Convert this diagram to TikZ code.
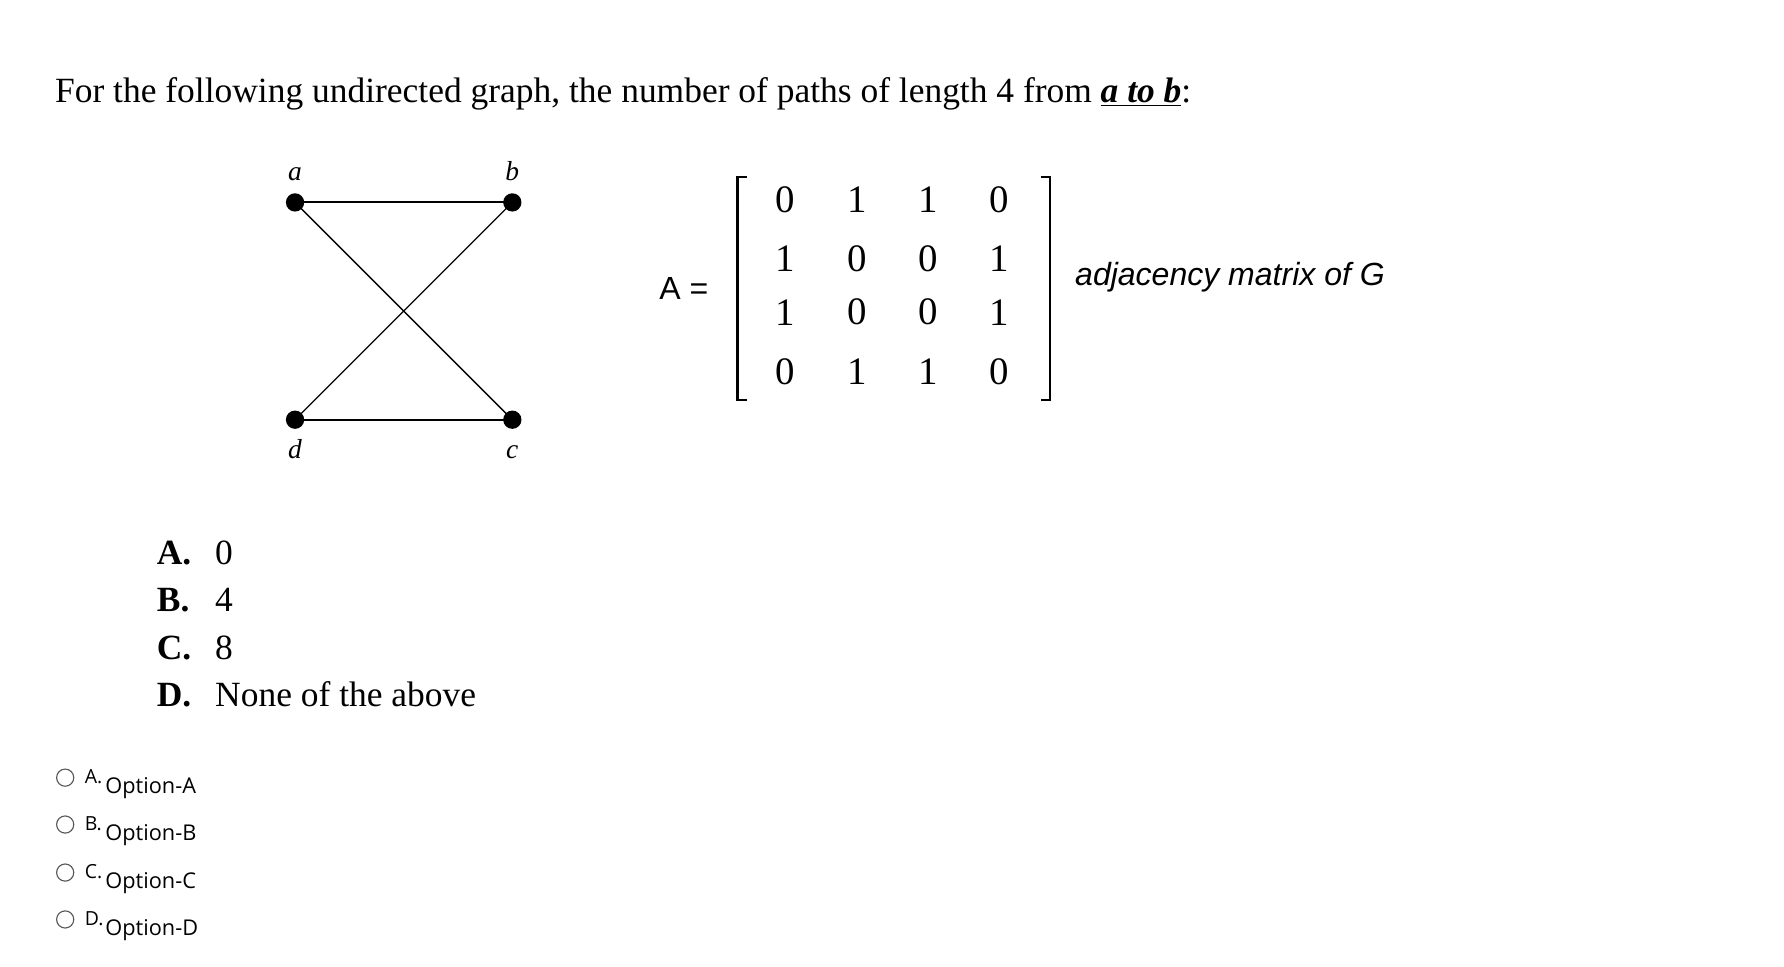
\documentclass[tikz,border=0pt]{standalone}
\usepackage{fontspec}
\setmainfont{Liberation Serif}
\newfontfamily\osans{Open Sans}
\newfontfamily\gsans{Liberation Sans}
\begin{document}
\begin{tikzpicture}[x=1pt,y=-1pt,
  vtx/.style={circle,fill=black,inner sep=0pt,minimum size=16pt},
  vlab/.style={font=\fontsize{24}{26}\selectfont\itshape},
  ent/.style={font=\fontsize{34}{36}\selectfont},
  opt/.style={anchor=base west,font=\fontsize{31}{34}\selectfont},
  radio/.style={circle,draw=gray!70!black,line width=1pt,minimum size=15pt,inner sep=0pt},
  small/.style={anchor=base west,font=\osans\fontsize{17}{19}\selectfont},
  optl/.style={anchor=base west,font=\osans\fontsize{19}{21}\selectfont}]
\useasboundingbox (0,0) rectangle (1560,845);
\node[anchor=base west,font=\fontsize{31}{34}\selectfont,inner sep=0] (title) at (48,90)
  {For the following undirected graph, the number of paths of length 4 from \underline{\textbf{\textit{a to b}}}:};
% graph
\node[vtx] (a) at (258,177) {};
\node[vtx] (b) at (448,177) {};
\node[vtx] (d) at (258,367) {};
\node[vtx] (c) at (448,367) {};
\draw[line width=1.6pt] (a.center) -- (b.center);
\draw[line width=1.6pt] (d.center) -- (c.center);
\draw[line width=1.2pt] (a.center) -- (c.center);
\draw[line width=1.2pt] (b.center) -- (d.center);
\node[vlab] (la) at (258,152) {a};
\node[vlab] (lb) at (448,150) {b};
\node[vlab] (ld) at (258,393) {d};
\node[vlab] (lc) at (448,395) {c};
% matrix
\foreach \r/\y in {1/175,2/226,3/273,4/325}{
  \foreach \cc/\x in {1/687,2/750,3/812,4/874}{
    \coordinate (m\r\cc) at (\x,\y);
  }}
\foreach \r/\vals in {1/{0,1,1,0},2/{1,0,0,1},3/{1,0,0,1},4/{0,1,1,0}}{
  \foreach \v [count=\cc] in \vals {
    \node[ent] (e\r\cc) at (m\r\cc) {\v};
  }}
\draw[line width=2pt] (653,155) -- (645,155) -- (645,350) -- (653,350);
\draw[line width=2pt] (910,155) -- (918,155) -- (918,350) -- (910,350);
\node[font=\gsans\fontsize{28}{30}\selectfont] (Aeq) at (598,252) {A =};
\node[anchor=west,font=\gsans\fontsize{28}{30}\selectfont\itshape,inner sep=0] (adj) at (940,242) {adjacency matrix of G};
% choices
\foreach \L/\t/\y in {A/0/494,B/4/535,C/8/577,D/None of the above/618}{
  \node[opt,inner sep=0] (c\L) at (137,\y) {\textbf{\L.}};
  \node[opt,inner sep=0] (t\L) at (188,\y) {\t};
}
\foreach \L/\y in {A/680,B/721,C/763,D/804}{
  \node[radio] (r\L) at (57,\y) {};
  \node[small,inner sep=0] (s\L) at (74,\y+5) {\L.};
  \node[optl,inner sep=0] (o\L) at (92,\y+14) {Option-\L};
}
\end{tikzpicture}
\end{document}
